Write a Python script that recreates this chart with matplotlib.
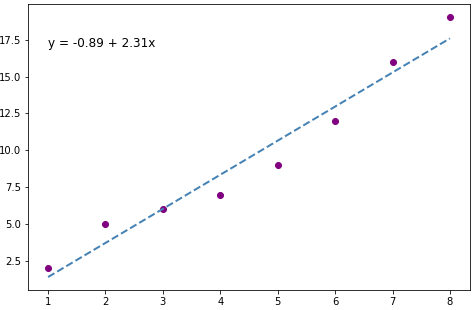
import matplotlib
matplotlib.use("Agg")
import matplotlib.pyplot as plt
import numpy as np

# data
x = np.array([1, 2, 3, 4, 5, 6, 7, 8])
y = np.array([2, 5, 6, 7, 9, 12, 16, 19])

# least squares fit
b, a = np.polyfit(x, y, 1)
y_pred = a + b * x

fig, ax = plt.subplots(figsize=(474 / 72, 310 / 72), dpi=72)
fig.subplots_adjust(left=0.059, right=0.9916, top=0.9855, bottom=0.0645)

ax.scatter(x, y, color="purple")
ax.plot(x, y_pred, color="steelblue", linestyle="--", linewidth=2)
ax.text(1, 17, "y = " + "{:.2f}".format(a) + " + {:.2f}".format(b) + "x", size=12)

fig.savefig("out.png", dpi=72)
